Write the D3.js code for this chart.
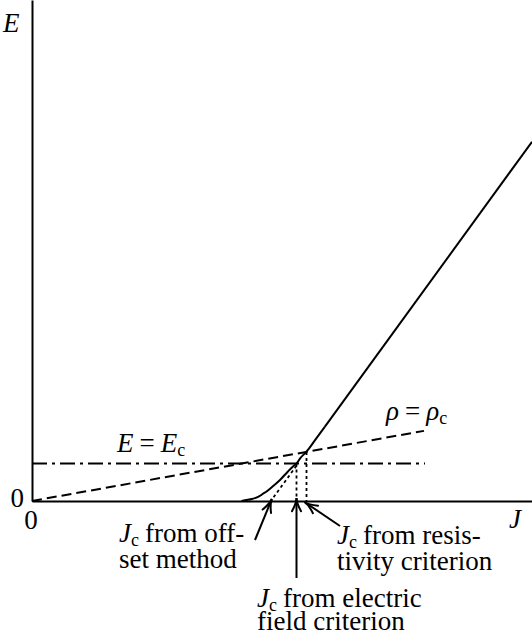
<!DOCTYPE html>
<html><head><meta charset="utf-8">
<script src="https://cdn.jsdelivr.net/npm/d3@7"></script>
</head><body style="margin:0;padding:0">
<svg id="c" width="532" height="635" style="display:block"></svg>
<script>
d3.select("body").style("margin", "0px").style("padding", "0px");
// ---- data (J, E in arbitrary units) ----
const transitionJ = [4.19, 4.40, 4.63, 4.80, 4.96, 5.11, 5.22, 5.29, 5.37, 5.485, 5.65, 5.855];
const transitionE = [0.00, 0.04, 0.15, 0.28, 0.42, 0.58, 0.69, 0.75, 0.86, 0.98, 1.20, 1.48];
const linearJ = [5.855, 10.0];
const linearE = [1.48, 7.17];
const Ec = 0.75;            // electric field criterion
const EcLineJ = [0, 7.86];
const rhoLineJ = [0, 7.84];
const rhoLineE = [0, 1.40];
const JcOffset = 4.777;     // offset method intercept
const JcField = 5.29;       // where curve meets E = Ec
const JcRho = 5.49;         // where curve meets rho = rho_c
const EcRho = 0.98;
const offsetStart = [5.29, 0.704];

// ---- layout ----
const svg = d3.select("#c");
const x = d3.scaleLinear().domain([0, 10]).range([32, 532]);
const y = d3.scaleLinear().domain([0, 10]).range([501, 0]);
const SW = 2;

svg.append("g").attr("transform", `translate(0,${y(0)})`)
  .call(d3.axisBottom(x).tickValues([]).tickSizeOuter(0))
  .select(".domain").attr("stroke", "#000").attr("stroke-width", SW);
svg.append("g").attr("transform", `translate(${x(0)},0)`)
  .call(d3.axisLeft(y).tickValues([]).tickSizeOuter(0))
  .select(".domain").attr("stroke", "#000").attr("stroke-width", SW);

const line = d3.line().x(d => x(d[0])).y(d => y(d[1]));

svg.append("path").attr("d", line(EcLineJ.map(j => [j, Ec])))
  .attr("fill", "none").attr("stroke", "#000").attr("stroke-width", SW)
  .attr("stroke-dasharray", "15,5,3,5");

svg.append("path").attr("d", line(rhoLineJ.map((j, i) => [j, rhoLineE[i]])))
  .attr("fill", "none").attr("stroke", "#000").attr("stroke-width", SW)
  .attr("stroke-dasharray", "10,5");

const dotted = (pts) => svg.append("path").attr("d", line(pts))
  .attr("fill", "none").attr("stroke", "#000").attr("stroke-width", 1.8)
  .attr("stroke-dasharray", "3,3");
dotted([[JcField, Ec], [JcField, 0]]);
dotted([[JcRho, EcRho], [JcRho, 0]]);
dotted([offsetStart, [JcOffset, 0]]);

svg.append("path")
  .attr("d", d3.line().x(d => x(d[0])).y(d => y(d[1])).curve(d3.curveMonotoneY)(transitionJ.map((j, i) => [j, transitionE[i]])))
  .attr("fill", "none").attr("stroke", "#000").attr("stroke-width", SW);
svg.append("path").attr("d", line(linearJ.map((j, i) => [j, linearE[i]])))
  .attr("fill", "none").attr("stroke", "#000").attr("stroke-width", SW);

function arrow(tail, tip) {
  const [x1, y1] = tail, [x2, y2] = tip;
  svg.append("line").attr("x1", x1).attr("y1", y1).attr("x2", x2).attr("y2", y2)
    .attr("stroke", "#000").attr("stroke-width", SW);
  const a = Math.atan2(y1 - y2, x1 - x2), L = 14, h = 0.33;
  const p1 = [x2 + L * Math.cos(a + h), y2 + L * Math.sin(a + h)];
  const p2 = [x2 + L * Math.cos(a - h), y2 + L * Math.sin(a - h)];
  const q = [x2 + 5 * Math.cos(a), y2 + 5 * Math.sin(a)];
  svg.append("path").attr("d", `M${p1[0]},${p1[1]}Q${q[0]},${q[1]} ${x2},${y2}Q${q[0]},${q[1]} ${p2[0]},${p2[1]}`)
    .attr("fill", "none").attr("stroke", "#000").attr("stroke-width", SW).attr("stroke-linecap", "round");
}
arrow([255, 540], [x(JcOffset) + 1, y(0) - 2]);
arrow([x(JcField), 578], [x(JcField), y(0) - 3]);
arrow([340, 526], [x(JcRho) - 2, y(0) + 1]);

// ---- text: each run is its own <text> element ----
const FS = 27, SUB = 18;
function run(xp, yp, str, size, italic, anchor) {
  return svg.append("text").attr("x", xp).attr("y", yp)
    .style("font-family", "'Liberation Serif'")
    .style("font-size", size + "px")
    .style("font-style", italic ? "italic" : "normal")
    .attr("fill", "#000")
    .attr("text-anchor", anchor || "start")
    .text(str);
}
function label(xp, yp, parts) {
  let cx = xp;
  parts.forEach(p => {
    const size = p.sub ? SUB : FS;
    const t = run(cx, yp + (p.sub ? 4 : 0), p.t, size, p.i);
    let w = 0;
    try { w = t.node().getComputedTextLength(); } catch (e) { w = 0; }
    if (!w) w = p.t.length * size * 0.48;
    cx += w + (p.gap || 0);
  });
}
const Jc = [{t: "J", i: 1}, {t: "c", sub: 1, gap: 6}];
run(3, 32, "E", FS, true);
run(509, 528, "J", FS, true);
run(24, 507, "0", FS, false, "end");
run(x(0) - 1, 529, "0", FS, false, "middle");
label(117, 452, [{t: "E", i: 1, gap: 6}, {t: "=", gap: 6}, {t: "E", i: 1}, {t: "c", sub: 1}]);
label(386, 420, [{t: "\u03c1", i: 1, gap: 6}, {t: "=", gap: 6}, {t: "\u03c1", i: 1}, {t: "c", sub: 1}]);
label(119, 542, [...Jc, {t: "from off-"}]);
run(119, 568, "set method", FS, false);
label(337, 544, [...Jc, {t: "from resis-"}]);
run(337, 570, "tivity criterion", FS, false);
label(257, 607, [...Jc, {t: "from electric"}]);
run(257, 630, "field criterion", FS, false);
</script>
</body></html>
